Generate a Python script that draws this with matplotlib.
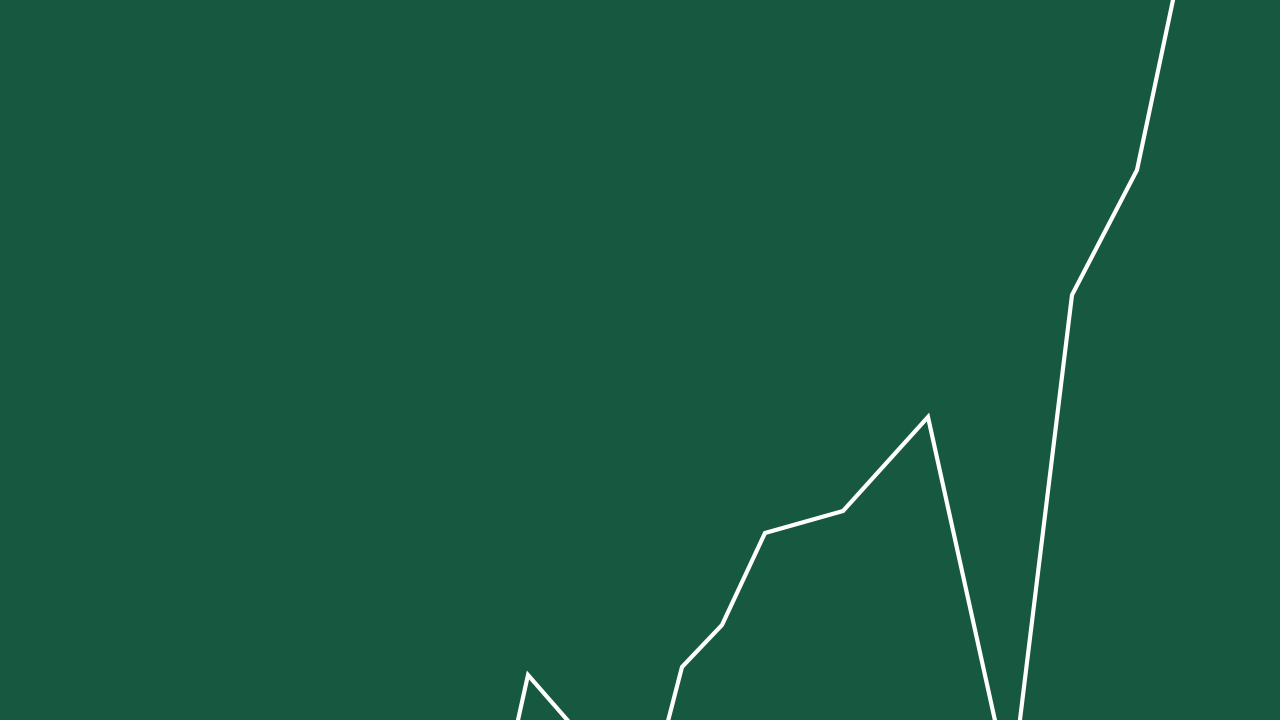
import matplotlib
matplotlib.use("Agg")
import matplotlib.pyplot as plt

# series (the line runs past the frame at both ends)
x_vals = [510, 528, 590, 660, 682, 722, 765, 843, 928, 1011, 1072, 1137, 1180]
y_vals = [-36, 45, -26, -32, 53, 95, 187, 209, 303, -73, 425, 550, 753]

bg = "#175940"

fig = plt.figure(figsize=(12.8, 7.2), dpi=100, facecolor=bg)
ax = fig.add_axes([0, 0, 1, 1])
ax.set_facecolor(bg)
ax.plot(x_vals, y_vals, color="white", lw=3, solid_joinstyle="miter")
ax.set_xlim(0, 1280)
ax.set_ylim(0, 720)
ax.axis("off")

fig.savefig("out.png", facecolor=bg)
